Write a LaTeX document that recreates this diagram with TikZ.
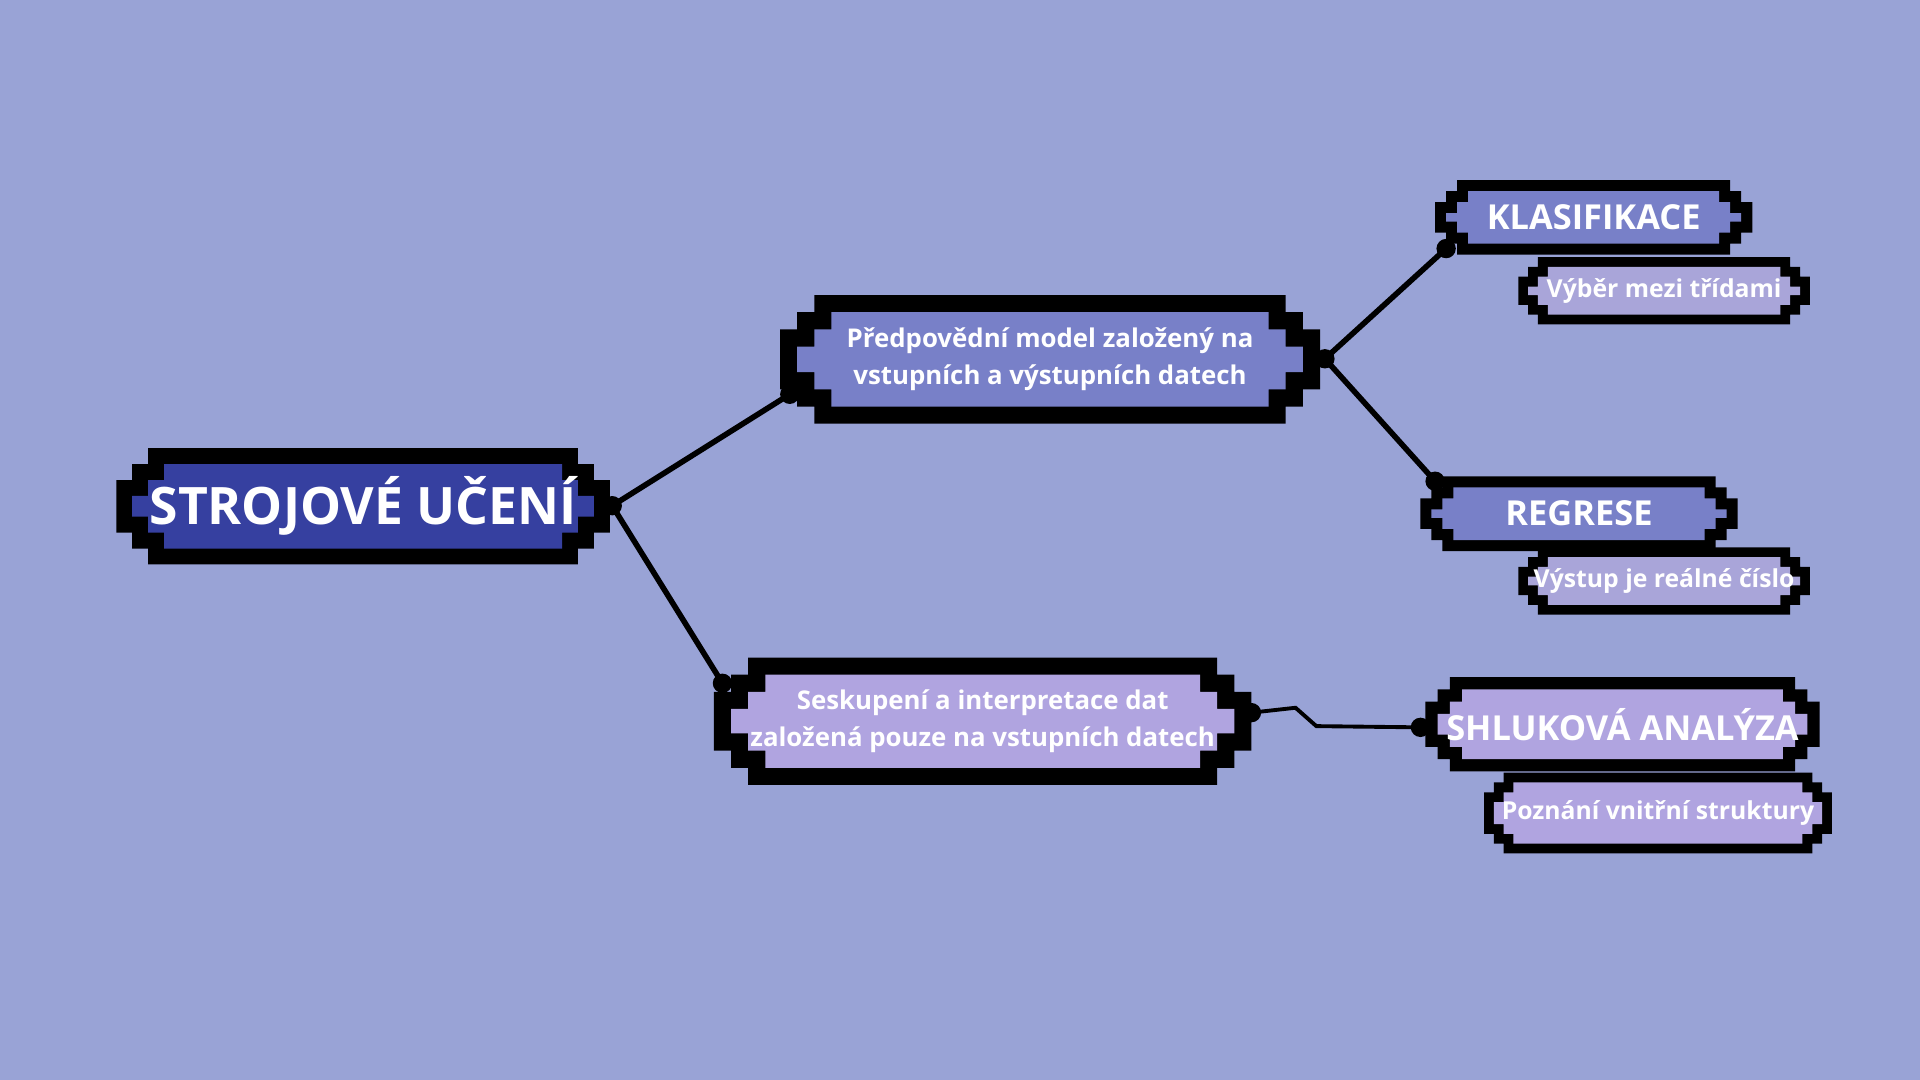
\documentclass[tikz,border=0pt]{standalone}
\usepackage{fontspec}
\setmainfont{Open Sans}
\definecolor{bg}{HTML}{99A3D6}
\definecolor{dark}{HTML}{3640A0}
\definecolor{mid}{HTML}{7880C8}
\definecolor{lav}{HTML}{B0A4E0}
\definecolor{pale}{HTML}{A9A5D9}
% stepped outline: x1,y1,x2,y2,step
\newcommand\pixpath[5]{({#1+2*#5},#2) -- ({#3-2*#5},#2) -- ({#3-2*#5},{#2+#5}) -- ({#3-#5},{#2+#5}) -- ({#3-#5},{#2+2*#5}) -- (#3,{#2+2*#5})
 -- (#3,{#4-2*#5}) -- ({#3-#5},{#4-2*#5}) -- ({#3-#5},{#4-#5}) -- ({#3-2*#5},{#4-#5}) -- ({#3-2*#5},#4)
 -- ({#1+2*#5},#4) -- ({#1+2*#5},{#4-#5}) -- ({#1+#5},{#4-#5}) -- ({#1+#5},{#4-2*#5}) -- (#1,{#4-2*#5})
 -- (#1,{#2+2*#5}) -- ({#1+#5},{#2+2*#5}) -- ({#1+#5},{#2+#5}) -- ({#1+2*#5},{#2+#5}) -- cycle}
% name, x1,y1,x2,y2, step, fill, font, text
\newcommand\pixbox[9]{%
  \fill[black] \pixpath{#2}{#3}{#4}{#5}{#6};
  \fill[#7] \pixpath{#2+#6}{#3+#6}{#4-#6}{#5-#6}{#6};
  \node[txt,font=#8,minimum width={(#4-#2)*0.02cm},minimum height={(#5-#3)*0.02cm}] (#1) at ({(#2+#4)/2},{(#3+#5)/2}) {#9};}
\tikzset{
  txt/.style={text=white,align=center,inner sep=0pt},
  link/.style={line width=2.6pt,black},
  dot/.style={circle,fill=black,inner sep=0pt,minimum size=9pt}
}
\begin{document}
\begin{tikzpicture}[x=0.02cm,y=-0.02cm]
  \fill[bg] (0,0) rectangle (1568,882);
  \pixbox{root}{95}{366}{498}{461}{13}{dark}{\bfseries\fontsize{24}{28}\selectfont}{STROJOVÉ UČENÍ}
  \pixbox{sup}{637}{241}{1078}{346}{14}{mid}{\bfseries\fontsize{12}{17}\selectfont}{Předpovědní model založený na\\vstupních a výstupních datech}
  \pixbox{unsup}{583}{537}{1022}{641}{14}{lav}{\bfseries\fontsize{12}{17}\selectfont}{Seskupení a interpretace dat\\založená pouze na vstupních datech}
  \pixbox{klas}{1172}{147}{1431}{208}{9}{mid}{\bfseries\fontsize{16}{19}\selectfont}{KLASIFIKACE}
  \pixbox{vyber}{1240}{210}{1478}{265}{8}{pale}{\bfseries\fontsize{11.5}{14}\selectfont}{Výběr mezi třídami}
  \pixbox{regr}{1160}{389}{1419}{450}{9}{mid}{\bfseries\fontsize{16}{19}\selectfont}{REGRESE}
  \pixbox{vyst}{1240}{447}{1478}{502}{8}{pale}{\bfseries\fontsize{11.5}{14}\selectfont}{Výstup je reálné číslo}
  \pixbox{shluk}{1164}{553}{1486}{630}{10}{lav}{\bfseries\fontsize{16}{19}\selectfont}{SHLUKOVÁ ANALÝZA}
  \pixbox{pozn}{1212}{631}{1496}{697}{8}{lav}{\bfseries\fontsize{11.5}{14}\selectfont}{Poznání vnitřní struktury}

  \coordinate (r1) at (500,413);
  \coordinate (s1) at (645,322);
  \coordinate (u1) at (590,558);
  \coordinate (s2) at (1082,293);
  \coordinate (k1) at (1181,203);
  \coordinate (g1) at (1172,393);
  \coordinate (u2) at (1022,582);
  \coordinate (h1) at (1160,594);
  \coordinate (b1) at (1058,578);
  \coordinate (b2) at (1075,593);
  \draw[link] (r1) -- (s1);
  \draw[link] (r1) -- (u1);
  \draw[link] (s2) -- (k1);
  \draw[link] (s2) -- (g1);
  \draw[black,line width=1.8pt] (u2) -- (b1) -- (b2) -- (h1);
  \foreach \p in {r1,s1,u1,s2,k1,g1,u2,h1} \node[dot] at (\p) {};
\end{tikzpicture}
\end{document}
